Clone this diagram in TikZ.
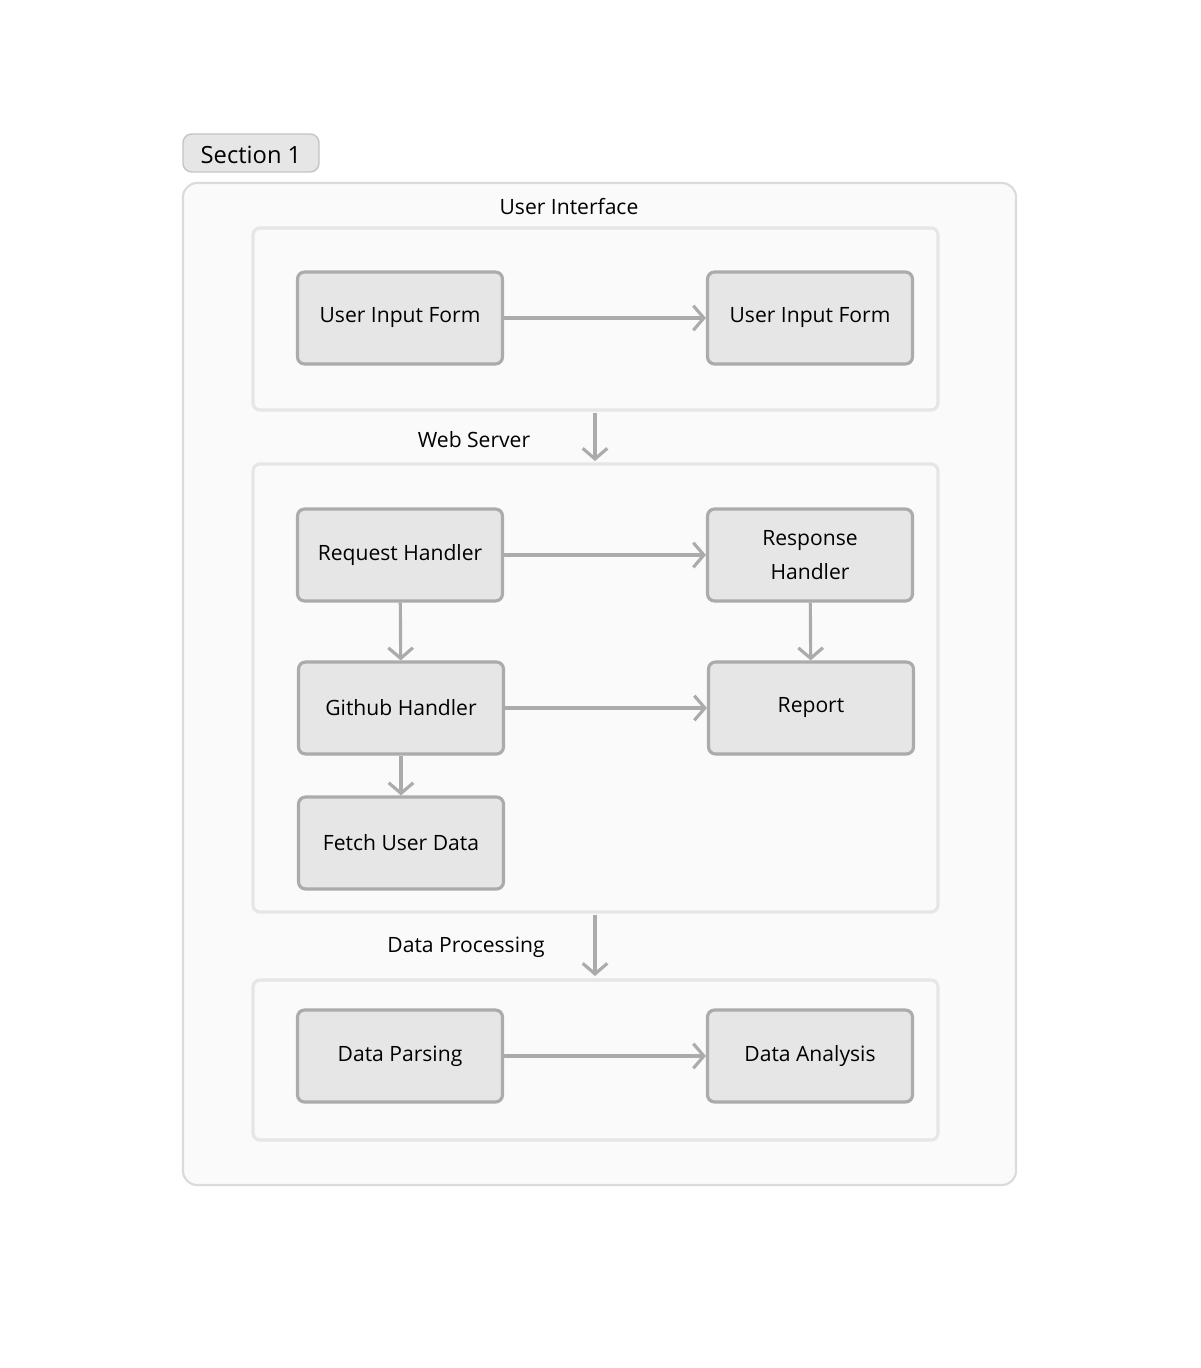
\documentclass[tikz,border=0pt]{standalone}
\usepackage{fontspec}
\setmainfont{Open Sans}
\usetikzlibrary{arrows.meta}
\definecolor{boxfill}{HTML}{E6E6E6}
\definecolor{boxline}{HTML}{ABABAB}
\definecolor{grpline}{HTML}{E6E6E6}
\definecolor{bgfill}{HTML}{FAFAFA}
\tikzset{
  box/.style={draw=boxline,fill=boxfill,line width=1.8pt,rounded corners=4pt,
    minimum width=4.1cm,minimum height=1.84cm,align=center,font=\fontsize{12}{19}\selectfont},
  group/.style={draw=grpline,fill=bgfill,line width=1.8pt,rounded corners=4pt},
  lbl/.style={font=\fontsize{12}{15}\selectfont},
  flow/.style={draw=boxline,line width=1.8pt,-{Straight Barb[length=6pt,width=14pt,line width=1.8pt]}}
}
\begin{document}
\begin{tikzpicture}[x=0.02cm,y=-0.02cm]
    \useasboundingbox (0,0) rectangle (1200,1368);
    \draw[draw=boxline!70,fill=boxfill,line width=0.8pt,rounded corners=5pt] (183,134) rectangle (319,172);
    \node[lbl,font=\fontsize{13.5}{16}\selectfont] (sec) at (251,155) {Section 1};
    \draw[draw=black!14,fill=bgfill,line width=1.2pt,rounded corners=8pt] (183,183) rectangle (1016,1185);

    % user interface
    \node[lbl] (uilbl) at (569,207) {User Interface};
    \draw[group] (253,228) rectangle (938,410);
    \coordinate (uibot) at (595,413);
    \node[box] (form1) at (400,318) {User Input Form};
    \node[box] (form2) at (810,318) {User Input Form};

    % web server
    \node[lbl] (wslbl) at (474,440) {Web Server};
    \coordinate (wstop) at (595,461);
    \draw[group] (253,464) rectangle (938,912);
    \coordinate (wsbot) at (595,915);
    \node[box] (req) at (400,555) {Request Handler};
    \node[box] (resp) at (810,555) {Response\\Handler};
    \node[box] (gh) at (401,708) {Github Handler};
    \node[box] (rep) at (811,708) {Report};
    \node[box] (fetch) at (401,843) {Fetch User Data};

    % data processing
    \node[lbl] (dplbl) at (466,947) {Data Processing};
    \coordinate (dptop) at (595,976);
    \draw[group] (253,980) rectangle (938,1140);
    \node[box] (parse) at (400,1056) {Data Parsing};
    \node[box] (anal) at (810,1056) {Data Analysis};

    \draw[flow] (form1) -- (form2);
    \draw[flow] (uibot) -- (wstop);
    \draw[flow] (req) -- (resp);
    \draw[flow] (req) -- (gh);
    \draw[flow] (resp) -- (rep);
    \draw[flow] (gh) -- (rep);
    \draw[flow] (gh) -- (fetch);
    \draw[flow] (wsbot) -- (dptop);
    \draw[flow] (parse) -- (anal);
\end{tikzpicture}
\end{document}
